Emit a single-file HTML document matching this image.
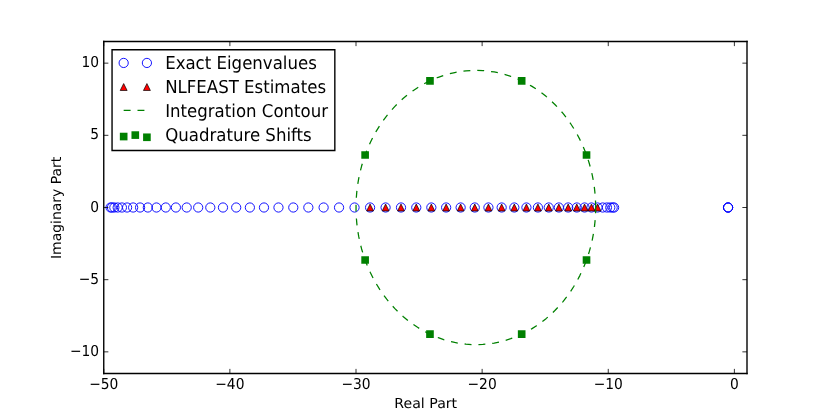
<!DOCTYPE html>
<html><head><meta charset="utf-8"><title>NLFEAST plot</title>
<style>html,body{margin:0;padding:0;background:#fff;width:830px;height:415px;overflow:hidden}svg{display:block}
text{font-family:"DejaVu Sans","Liberation Sans",sans-serif;text-rendering:geometricPrecision}</style>
</head><body>
<svg width="830" height="415" viewBox="0 0 720 360" version="1.1">
  <defs>
  <style type="text/css">*{stroke-linejoin: round; stroke-linecap: butt}</style>
 </defs>
 <g id="figure_1">
  <g id="patch_1">
   <path d="M 0 360 L 720 360 L 720 0 L 0 0 z
" style="fill: #ffffff"/>
  </g>
  <g id="axes_1">
   <g id="patch_2">
    <path d="M 90 324 L 648 324 L 648 36 L 90 36 z
" style="fill: #ffffff"/>
   </g>
   <g id="PathCollection_1">
    <path d="M 505.477207 137.793935 L 512.110456 137.793935 L 512.110456 131.160685 L 505.477207 131.160685 z
" clip-path="url(#p7ada1fab5f)" style="fill: #008000"/>
    <path d="M 449.224647 73.415129 L 455.857897 73.415129 L 455.857897 66.78188 L 449.224647 66.78188 z
" clip-path="url(#p7ada1fab5f)" style="fill: #008000"/>
    <path d="M 369.671515 73.415129 L 376.304764 73.415129 L 376.304764 66.78188 L 369.671515 66.78188 z
" clip-path="url(#p7ada1fab5f)" style="fill: #008000"/>
    <path d="M 313.418956 137.793935 L 320.052205 137.793935 L 320.052205 131.160685 L 313.418956 131.160685 z
" clip-path="url(#p7ada1fab5f)" style="fill: #008000"/>
    <path d="M 313.418956 228.839315 L 320.052205 228.839315 L 320.052205 222.206065 L 313.418956 222.206065 z
" clip-path="url(#p7ada1fab5f)" style="fill: #008000"/>
    <path d="M 369.671515 293.21812 L 376.304764 293.21812 L 376.304764 286.584871 L 369.671515 286.584871 z
" clip-path="url(#p7ada1fab5f)" style="fill: #008000"/>
    <path d="M 449.224647 293.21812 L 455.857897 293.21812 L 455.857897 286.584871 L 449.224647 286.584871 z
" clip-path="url(#p7ada1fab5f)" style="fill: #008000"/>
    <path d="M 505.477207 228.839315 L 512.110456 228.839315 L 512.110456 222.206065 L 505.477207 222.206065 z
" clip-path="url(#p7ada1fab5f)" style="fill: #008000"/>
   </g>
   <g id="line2d_1">
    <defs>
     <path id="m9eec6ff01c" d="M 0 4 C 1.060812 4 2.078319 3.578535 2.828427 2.828427 C 3.578535 2.078319 4 1.060812 4 0 C 4 -1.060812 3.578535 -2.078319 2.828427 -2.828427 C 2.078319 -3.578535 1.060812 -4 0 -4 C -1.060812 -4 -2.078319 -3.578535 -2.828427 -2.828427 C -3.578535 -2.078319 -4 -1.060812 -4 0 C -4 1.060812 -3.578535 2.078319 -2.828427 2.828427 C -2.078319 3.578535 -1.060812 4 0 4 z
" style="stroke: #0000ff; stroke-width: 0.8"/>
    </defs>
    <g clip-path="url(#p7ada1fab5f)">
     <use href="#m9eec6ff01c" x="95.885625" y="180" style="fill-opacity: 0; stroke: #0000ff; stroke-width: 0.8"/>
     <use href="#m9eec6ff01c" x="97.129159" y="180" style="fill-opacity: 0; stroke: #0000ff; stroke-width: 0.8"/>
     <use href="#m9eec6ff01c" x="99.196475" y="180" style="fill-opacity: 0; stroke: #0000ff; stroke-width: 0.8"/>
     <use href="#m9eec6ff01c" x="102.079729" y="180" style="fill-opacity: 0; stroke: #0000ff; stroke-width: 0.8"/>
     <use href="#m9eec6ff01c" x="105.767986" y="180" style="fill-opacity: 0; stroke: #0000ff; stroke-width: 0.8"/>
     <use href="#m9eec6ff01c" x="110.247253" y="180" style="fill-opacity: 0; stroke: #0000ff; stroke-width: 0.8"/>
     <use href="#m9eec6ff01c" x="115.500541" y="180" style="fill-opacity: 0; stroke: #0000ff; stroke-width: 0.8"/>
     <use href="#m9eec6ff01c" x="121.50792" y="180" style="fill-opacity: 0; stroke: #0000ff; stroke-width: 0.8"/>
     <use href="#m9eec6ff01c" x="128.246603" y="180" style="fill-opacity: 0; stroke: #0000ff; stroke-width: 0.8"/>
     <use href="#m9eec6ff01c" x="135.691029" y="180" style="fill-opacity: 0; stroke: #0000ff; stroke-width: 0.8"/>
     <use href="#m9eec6ff01c" x="143.812957" y="180" style="fill-opacity: 0; stroke: #0000ff; stroke-width: 0.8"/>
     <use href="#m9eec6ff01c" x="152.581578" y="180" style="fill-opacity: 0; stroke: #0000ff; stroke-width: 0.8"/>
     <use href="#m9eec6ff01c" x="161.963631" y="180" style="fill-opacity: 0; stroke: #0000ff; stroke-width: 0.8"/>
     <use href="#m9eec6ff01c" x="171.923525" y="180" style="fill-opacity: 0; stroke: #0000ff; stroke-width: 0.8"/>
     <use href="#m9eec6ff01c" x="182.42348" y="180" style="fill-opacity: 0; stroke: #0000ff; stroke-width: 0.8"/>
     <use href="#m9eec6ff01c" x="193.423665" y="180" style="fill-opacity: 0; stroke: #0000ff; stroke-width: 0.8"/>
     <use href="#m9eec6ff01c" x="204.882353" y="180" style="fill-opacity: 0; stroke: #0000ff; stroke-width: 0.8"/>
     <use href="#m9eec6ff01c" x="216.756077" y="180" style="fill-opacity: 0; stroke: #0000ff; stroke-width: 0.8"/>
     <use href="#m9eec6ff01c" x="228.999797" y="180" style="fill-opacity: 0; stroke: #0000ff; stroke-width: 0.8"/>
     <use href="#m9eec6ff01c" x="241.567067" y="180" style="fill-opacity: 0; stroke: #0000ff; stroke-width: 0.8"/>
     <use href="#m9eec6ff01c" x="254.410216" y="180" style="fill-opacity: 0; stroke: #0000ff; stroke-width: 0.8"/>
     <use href="#m9eec6ff01c" x="267.480525" y="180" style="fill-opacity: 0; stroke: #0000ff; stroke-width: 0.8"/>
     <use href="#m9eec6ff01c" x="280.728414" y="180" style="fill-opacity: 0; stroke: #0000ff; stroke-width: 0.8"/>
     <use href="#m9eec6ff01c" x="294.10363" y="180" style="fill-opacity: 0; stroke: #0000ff; stroke-width: 0.8"/>
     <use href="#m9eec6ff01c" x="307.555434" y="180" style="fill-opacity: 0; stroke: #0000ff; stroke-width: 0.8"/>
     <use href="#m9eec6ff01c" x="321.032801" y="180" style="fill-opacity: 0; stroke: #0000ff; stroke-width: 0.8"/>
     <use href="#m9eec6ff01c" x="334.484606" y="180" style="fill-opacity: 0; stroke: #0000ff; stroke-width: 0.8"/>
     <use href="#m9eec6ff01c" x="347.859821" y="180" style="fill-opacity: 0; stroke: #0000ff; stroke-width: 0.8"/>
     <use href="#m9eec6ff01c" x="361.10771" y="180" style="fill-opacity: 0; stroke: #0000ff; stroke-width: 0.8"/>
     <use href="#m9eec6ff01c" x="374.178019" y="180" style="fill-opacity: 0; stroke: #0000ff; stroke-width: 0.8"/>
     <use href="#m9eec6ff01c" x="387.021168" y="180" style="fill-opacity: 0; stroke: #0000ff; stroke-width: 0.8"/>
     <use href="#m9eec6ff01c" x="399.588438" y="180" style="fill-opacity: 0; stroke: #0000ff; stroke-width: 0.8"/>
     <use href="#m9eec6ff01c" x="411.832158" y="180" style="fill-opacity: 0; stroke: #0000ff; stroke-width: 0.8"/>
     <use href="#m9eec6ff01c" x="423.705882" y="180" style="fill-opacity: 0; stroke: #0000ff; stroke-width: 0.8"/>
     <use href="#m9eec6ff01c" x="435.164571" y="180" style="fill-opacity: 0; stroke: #0000ff; stroke-width: 0.8"/>
     <use href="#m9eec6ff01c" x="446.164756" y="180" style="fill-opacity: 0; stroke: #0000ff; stroke-width: 0.8"/>
     <use href="#m9eec6ff01c" x="456.66471" y="180" style="fill-opacity: 0; stroke: #0000ff; stroke-width: 0.8"/>
     <use href="#m9eec6ff01c" x="466.624605" y="180" style="fill-opacity: 0; stroke: #0000ff; stroke-width: 0.8"/>
     <use href="#m9eec6ff01c" x="476.006657" y="180" style="fill-opacity: 0; stroke: #0000ff; stroke-width: 0.8"/>
     <use href="#m9eec6ff01c" x="484.775279" y="180" style="fill-opacity: 0; stroke: #0000ff; stroke-width: 0.8"/>
     <use href="#m9eec6ff01c" x="492.897207" y="180" style="fill-opacity: 0; stroke: #0000ff; stroke-width: 0.8"/>
     <use href="#m9eec6ff01c" x="500.341632" y="180" style="fill-opacity: 0; stroke: #0000ff; stroke-width: 0.8"/>
     <use href="#m9eec6ff01c" x="507.080315" y="180" style="fill-opacity: 0; stroke: #0000ff; stroke-width: 0.8"/>
     <use href="#m9eec6ff01c" x="513.087695" y="180" style="fill-opacity: 0; stroke: #0000ff; stroke-width: 0.8"/>
     <use href="#m9eec6ff01c" x="518.340982" y="180" style="fill-opacity: 0; stroke: #0000ff; stroke-width: 0.8"/>
     <use href="#m9eec6ff01c" x="522.82025" y="180" style="fill-opacity: 0; stroke: #0000ff; stroke-width: 0.8"/>
     <use href="#m9eec6ff01c" x="526.508506" y="180" style="fill-opacity: 0; stroke: #0000ff; stroke-width: 0.8"/>
     <use href="#m9eec6ff01c" x="529.391761" y="180" style="fill-opacity: 0; stroke: #0000ff; stroke-width: 0.8"/>
     <use href="#m9eec6ff01c" x="531.459076" y="180" style="fill-opacity: 0; stroke: #0000ff; stroke-width: 0.8"/>
     <use href="#m9eec6ff01c" x="532.702611" y="180" style="fill-opacity: 0; stroke: #0000ff; stroke-width: 0.8"/>
     <use href="#m9eec6ff01c" x="631.588235" y="180" style="fill-opacity: 0; stroke: #0000ff; stroke-width: 0.8"/>
     <use href="#m9eec6ff01c" x="631.588235" y="180" style="fill-opacity: 0; stroke: #0000ff; stroke-width: 0.8"/>
     <use href="#m9eec6ff01c" x="631.588235" y="180" style="fill-opacity: 0; stroke: #0000ff; stroke-width: 0.8"/>
    </g>
   </g>
   <g id="line2d_2">
    <defs>
     <path id="m22b34744af" d="M 0 -3 L -3 3 L 3 3 z
" style="stroke: #000000; stroke-width: 0.6; stroke-linejoin: miter"/>
    </defs>
    <g clip-path="url(#p7ada1fab5f)">
     <use href="#m22b34744af" x="518.340982" y="180" style="fill: #ff0000; stroke: #000000; stroke-width: 0.6; stroke-linejoin: miter"/>
     <use href="#m22b34744af" x="513.087695" y="180" style="fill: #ff0000; stroke: #000000; stroke-width: 0.6; stroke-linejoin: miter"/>
     <use href="#m22b34744af" x="507.080315" y="180" style="fill: #ff0000; stroke: #000000; stroke-width: 0.6; stroke-linejoin: miter"/>
     <use href="#m22b34744af" x="500.341632" y="180" style="fill: #ff0000; stroke: #000000; stroke-width: 0.6; stroke-linejoin: miter"/>
     <use href="#m22b34744af" x="492.897207" y="180" style="fill: #ff0000; stroke: #000000; stroke-width: 0.6; stroke-linejoin: miter"/>
     <use href="#m22b34744af" x="484.775279" y="180" style="fill: #ff0000; stroke: #000000; stroke-width: 0.6; stroke-linejoin: miter"/>
     <use href="#m22b34744af" x="476.006657" y="180" style="fill: #ff0000; stroke: #000000; stroke-width: 0.6; stroke-linejoin: miter"/>
     <use href="#m22b34744af" x="466.624605" y="180" style="fill: #ff0000; stroke: #000000; stroke-width: 0.6; stroke-linejoin: miter"/>
     <use href="#m22b34744af" x="456.66471" y="180" style="fill: #ff0000; stroke: #000000; stroke-width: 0.6; stroke-linejoin: miter"/>
     <use href="#m22b34744af" x="446.164756" y="180" style="fill: #ff0000; stroke: #000000; stroke-width: 0.6; stroke-linejoin: miter"/>
     <use href="#m22b34744af" x="435.164571" y="180" style="fill: #ff0000; stroke: #000000; stroke-width: 0.6; stroke-linejoin: miter"/>
     <use href="#m22b34744af" x="423.705882" y="180" style="fill: #ff0000; stroke: #000000; stroke-width: 0.6; stroke-linejoin: miter"/>
     <use href="#m22b34744af" x="411.832158" y="180" style="fill: #ff0000; stroke: #000000; stroke-width: 0.6; stroke-linejoin: miter"/>
     <use href="#m22b34744af" x="399.588438" y="180" style="fill: #ff0000; stroke: #000000; stroke-width: 0.6; stroke-linejoin: miter"/>
     <use href="#m22b34744af" x="387.021168" y="180" style="fill: #ff0000; stroke: #000000; stroke-width: 0.6; stroke-linejoin: miter"/>
     <use href="#m22b34744af" x="374.178019" y="180" style="fill: #ff0000; stroke: #000000; stroke-width: 0.6; stroke-linejoin: miter"/>
     <use href="#m22b34744af" x="361.10771" y="180" style="fill: #ff0000; stroke: #000000; stroke-width: 0.6; stroke-linejoin: miter"/>
     <use href="#m22b34744af" x="347.859821" y="180" style="fill: #ff0000; stroke: #000000; stroke-width: 0.6; stroke-linejoin: miter"/>
     <use href="#m22b34744af" x="334.484606" y="180" style="fill: #ff0000; stroke: #000000; stroke-width: 0.6; stroke-linejoin: miter"/>
     <use href="#m22b34744af" x="321.032801" y="180" style="fill: #ff0000; stroke: #000000; stroke-width: 0.6; stroke-linejoin: miter"/>
    </g>
   </g>
   <g id="line2d_3">
    <path d="M 516.705882 180 L 516.589916 174.382347 L 516.242274 168.777229 L 515.663734 163.197153 L 514.855586 157.654571 L 513.819633 152.16185 L 512.558187 146.731248 L 511.074063 141.374881 L 509.370572 136.104701 L 507.451516 130.932469 L 505.321176 125.869726 L 502.984307 120.927769 L 500.446122 116.117625 L 497.712286 111.450028 L 494.788899 106.935392 L 491.682483 102.583792 L 488.399972 98.404938 L 484.948688 94.408155 L 481.336334 90.60236 L 477.570969 86.996046 L 473.660997 83.597261 L 469.615141 80.413588 L 465.442429 77.452131 L 461.152173 74.719498 L 456.753946 72.221787 L 452.257561 69.964572 L 447.673052 67.952889 L 443.01065 66.191227 L 438.280756 64.683516 L 433.493927 63.433122 L 428.660842 62.442834 L 423.792287 61.714862 L 418.899125 61.25083 L 413.992274 61.051775 L 409.082685 61.118139 L 404.181312 61.449775 L 399.299091 62.045943 L 394.446918 62.905313 L 389.635618 64.025967 L 384.875929 65.405404 L 380.17847 67.040546 L 375.553725 68.927746 L 371.012011 71.06279 L 366.563464 73.440917 L 362.21801 76.056818 L 357.985345 78.904657 L 353.874915 81.97808 L 349.895891 85.270227 L 346.057151 88.773754 L 342.367263 92.480843 L 338.834458 96.38322 L 335.466621 100.47218 L 332.271266 104.738597 L 329.255523 109.172952 L 326.426122 113.765349 L 323.789377 118.505542 L 321.35117 123.382954 L 319.116942 128.3867 L 317.091679 133.505615 L 315.2799 138.728278 L 313.685648 144.043033 L 312.312479 149.438023 L 311.163459 154.901209 L 310.241152 160.4204 L 309.547614 165.983281 L 309.084394 171.577438 L 308.852525 177.19039 L 308.852525 182.80961 L 309.084394 188.422562 L 309.547614 194.016719 L 310.241152 199.5796 L 311.163459 205.098791 L 312.312479 210.561977 L 313.685648 215.956967 L 315.2799 221.271722 L 317.091679 226.494385 L 319.116942 231.6133 L 321.35117 236.617046 L 323.789377 241.494458 L 326.426122 246.234651 L 329.255523 250.827048 L 332.271266 255.261403 L 335.466621 259.52782 L 338.834458 263.61678 L 342.367263 267.519157 L 346.057151 271.226246 L 349.895891 274.729773 L 353.874915 278.02192 L 357.985345 281.095343 L 362.21801 283.943182 L 366.563464 286.559083 L 371.012011 288.93721 L 375.553725 291.072254 L 380.17847 292.959454 L 384.875929 294.594596 L 389.635618 295.974033 L 394.446918 297.094687 L 399.299091 297.954057 L 404.181312 298.550225 L 409.082685 298.881861 L 413.992274 298.948225 L 418.899125 298.74917 L 423.792287 298.285138 L 428.660842 297.557166 L 433.493927 296.566878 L 438.280756 295.316484 L 443.01065 293.808773 L 447.673052 292.047111 L 452.257561 290.035428 L 456.753946 287.778213 L 461.152173 285.280502 L 465.442429 282.547869 L 469.615141 279.586412 L 473.660997 276.402739 L 477.570969 273.003954 L 481.336334 269.39764 L 484.948688 265.591845 L 488.399972 261.595062 L 491.682483 257.416208 L 494.788899 253.064608 L 497.712286 248.549972 L 500.446122 243.882375 L 502.984307 239.072231 L 505.321176 234.130274 L 507.451516 229.067531 L 509.370572 223.895299 L 511.074063 218.625119 L 512.558187 213.268752 L 513.819633 207.83815 L 514.855586 202.345429 L 515.663734 196.802847 L 516.242274 191.222771 L 516.589916 185.617653 L 516.705882 180 L 516.705882 180 " clip-path="url(#p7ada1fab5f)" style="fill: none; stroke-dasharray: 6,6; stroke-dashoffset: 0; stroke: #008000; stroke-width: 1.1"/>
   </g>
   <g id="patch_3">
    <path d="M 90 324 L 90 36 " style="fill: none; stroke: #000000; stroke-width: 1.2; stroke-linejoin: miter; stroke-linecap: square"/>
   </g>
   <g id="patch_4">
    <path d="M 648 324 L 648 36 " style="fill: none; stroke: #000000; stroke-width: 1.2; stroke-linejoin: miter; stroke-linecap: square"/>
   </g>
   <g id="patch_5">
    <path d="M 90 324 L 648 324 " style="fill: none; stroke: #000000; stroke-width: 1.2; stroke-linejoin: miter; stroke-linecap: square"/>
   </g>
   <g id="patch_6">
    <path d="M 90 36 L 648 36 " style="fill: none; stroke: #000000; stroke-width: 1.2; stroke-linejoin: miter; stroke-linecap: square"/>
   </g>
   <g id="matplotlib.axis_1">
    <g id="xtick_1">
     <g id="line2d_4">
      <defs>
       <path id="m15deeab020" d="M 0 0 L 0 -4 " style="stroke: #000000; stroke-width: 0.7"/>
      </defs>
      <g>
       <use href="#m15deeab020" x="90" y="324" style="stroke: #000000; stroke-width: 0.7"/>
      </g>
     </g>
     <g id="line2d_5">
      <defs>
       <path id="m3d0ea3b565" d="M 0 0 L 0 4 " style="stroke: #000000; stroke-width: 0.7"/>
      </defs>
      <g>
       <use href="#m3d0ea3b565" x="90" y="36" style="stroke: #000000; stroke-width: 0.7"/>
      </g>
     </g>
     <g id="text_1">
      <text style="font-size: 12px; font-family: 'DejaVu Sans', sans-serif; text-anchor: middle" x="90" y="337.4651" transform="translate(90.0000 337.4651) scale(1.000 1.080) translate(-90.0000 -337.4651)">−50</text>
     </g>
    </g>
    <g id="xtick_2">
     <g id="line2d_6">
      <g>
       <use href="#m15deeab020" x="199.411765" y="324" style="stroke: #000000; stroke-width: 0.7"/>
      </g>
     </g>
     <g id="line2d_7">
      <g>
       <use href="#m3d0ea3b565" x="199.411765" y="36" style="stroke: #000000; stroke-width: 0.7"/>
      </g>
     </g>
     <g id="text_2">
      <text style="font-size: 12px; font-family: 'DejaVu Sans', sans-serif; text-anchor: middle" x="199.411765" y="337.4651" transform="translate(199.4118 337.4651) scale(1.000 1.080) translate(-199.4118 -337.4651)">−40</text>
     </g>
    </g>
    <g id="xtick_3">
     <g id="line2d_8">
      <g>
       <use href="#m15deeab020" x="308.823529" y="324" style="stroke: #000000; stroke-width: 0.7"/>
      </g>
     </g>
     <g id="line2d_9">
      <g>
       <use href="#m3d0ea3b565" x="308.823529" y="36" style="stroke: #000000; stroke-width: 0.7"/>
      </g>
     </g>
     <g id="text_3">
      <text style="font-size: 12px; font-family: 'DejaVu Sans', sans-serif; text-anchor: middle" x="308.823529" y="337.4651" transform="translate(308.8235 337.4651) scale(1.000 1.080) translate(-308.8235 -337.4651)">−30</text>
     </g>
    </g>
    <g id="xtick_4">
     <g id="line2d_10">
      <g>
       <use href="#m15deeab020" x="418.235294" y="324" style="stroke: #000000; stroke-width: 0.7"/>
      </g>
     </g>
     <g id="line2d_11">
      <g>
       <use href="#m3d0ea3b565" x="418.235294" y="36" style="stroke: #000000; stroke-width: 0.7"/>
      </g>
     </g>
     <g id="text_4">
      <text style="font-size: 12px; font-family: 'DejaVu Sans', sans-serif; text-anchor: middle" x="418.235294" y="337.4651" transform="translate(418.2353 337.4651) scale(1.000 1.080) translate(-418.2353 -337.4651)">−20</text>
     </g>
    </g>
    <g id="xtick_5">
     <g id="line2d_12">
      <g>
       <use href="#m15deeab020" x="527.647059" y="324" style="stroke: #000000; stroke-width: 0.7"/>
      </g>
     </g>
     <g id="line2d_13">
      <g>
       <use href="#m3d0ea3b565" x="527.647059" y="36" style="stroke: #000000; stroke-width: 0.7"/>
      </g>
     </g>
     <g id="text_5">
      <text style="font-size: 12px; font-family: 'DejaVu Sans', sans-serif; text-anchor: middle" x="527.647059" y="337.4651" transform="translate(527.6471 337.4651) scale(1.000 1.080) translate(-527.6471 -337.4651)">−10</text>
     </g>
    </g>
    <g id="xtick_6">
     <g id="line2d_14">
      <g>
       <use href="#m15deeab020" x="637.058824" y="324" style="stroke: #000000; stroke-width: 0.7"/>
      </g>
     </g>
     <g id="line2d_15">
      <g>
       <use href="#m3d0ea3b565" x="637.058824" y="36" style="stroke: #000000; stroke-width: 0.7"/>
      </g>
     </g>
     <g id="text_6">
      <text style="font-size: 12px; font-family: 'DejaVu Sans', sans-serif; text-anchor: middle" x="637.058824" y="337.4651" transform="translate(637.0588 337.4651) scale(1.000 1.080) translate(-637.0588 -337.4651)">0</text>
     </g>
    </g>
    <g id="text_7">
     <text style="font-size: 12px; font-family: 'DejaVu Sans', sans-serif; text-anchor: middle" x="369" y="353.7319" transform="translate(369.2863 353.7319) scale(1.022 1.000) translate(-369.0000 -353.7319)">Real Part</text>
    </g>
   </g>
   <g id="matplotlib.axis_2">
    <g id="ytick_1">
     <g id="line2d_16">
      <defs>
       <path id="m390d02311e" d="M 0 0 L 4 0 " style="stroke: #000000; stroke-width: 0.7"/>
      </defs>
      <g>
       <use href="#m390d02311e" x="90" y="305.217391" style="stroke: #000000; stroke-width: 0.7"/>
      </g>
     </g>
     <g id="line2d_17">
      <defs>
       <path id="m24675adae3" d="M 0 0 L -4 0 " style="stroke: #000000; stroke-width: 0.7"/>
      </defs>
      <g>
       <use href="#m24675adae3" x="648" y="305.217391" style="stroke: #000000; stroke-width: 0.7"/>
      </g>
     </g>
     <g id="text_8">
      <text style="font-size: 12px; font-family: 'DejaVu Sans', sans-serif; text-anchor: end" x="86" y="308.8193" transform="translate(86.0000 308.8193) scale(1.000 1.080) translate(-86.0000 -308.8193)">−10</text>
     </g>
    </g>
    <g id="ytick_2">
     <g id="line2d_18">
      <g>
       <use href="#m390d02311e" x="90" y="242.608696" style="stroke: #000000; stroke-width: 0.7"/>
      </g>
     </g>
     <g id="line2d_19">
      <g>
       <use href="#m24675adae3" x="648" y="242.608696" style="stroke: #000000; stroke-width: 0.7"/>
      </g>
     </g>
     <g id="text_9">
      <text style="font-size: 12px; font-family: 'DejaVu Sans', sans-serif; text-anchor: end" x="86" y="246.3614" transform="translate(86.0000 246.3614) scale(1.000 1.080) translate(-86.0000 -246.3614)">−5</text>
     </g>
    </g>
    <g id="ytick_3">
     <g id="line2d_20">
      <g>
       <use href="#m390d02311e" x="90" y="180" style="stroke: #000000; stroke-width: 0.7"/>
      </g>
     </g>
     <g id="line2d_21">
      <g>
       <use href="#m24675adae3" x="648" y="180" style="stroke: #000000; stroke-width: 0.7"/>
      </g>
     </g>
     <g id="text_10">
      <text style="font-size: 12px; font-family: 'DejaVu Sans', sans-serif; text-anchor: end" x="86" y="183.9036" transform="translate(86.0000 183.9036) scale(1.000 1.080) translate(-86.0000 -183.9036)">0</text>
     </g>
    </g>
    <g id="ytick_4">
     <g id="line2d_22">
      <g>
       <use href="#m390d02311e" x="90" y="117.391304" style="stroke: #000000; stroke-width: 0.7"/>
      </g>
     </g>
     <g id="line2d_23">
      <g>
       <use href="#m24675adae3" x="648" y="117.391304" style="stroke: #000000; stroke-width: 0.7"/>
      </g>
     </g>
     <g id="text_11">
      <text style="font-size: 12px; font-family: 'DejaVu Sans', sans-serif; text-anchor: end" x="86" y="120.5783" transform="translate(86.0000 120.5783) scale(1.000 1.080) translate(-86.0000 -120.5783)">5</text>
     </g>
    </g>
    <g id="ytick_5">
     <g id="line2d_24">
      <g>
       <use href="#m390d02311e" x="90" y="54.782609" style="stroke: #000000; stroke-width: 0.7"/>
      </g>
     </g>
     <g id="line2d_25">
      <g>
       <use href="#m24675adae3" x="648" y="54.782609" style="stroke: #000000; stroke-width: 0.7"/>
      </g>
     </g>
     <g id="text_12">
      <text style="font-size: 12px; font-family: 'DejaVu Sans', sans-serif; text-anchor: end" x="86" y="58.1205" transform="translate(86.0000 58.1205) scale(1.000 1.080) translate(-86.0000 -58.1205)">10</text>
     </g>
    </g>
    <g id="text_13">
     <text style="font-size: 12px; font-family: 'DejaVu Sans', sans-serif; text-anchor: middle" x="53.17875" y="180" transform="translate(53.1788 180.3470) rotate(-90) scale(1.008 1) translate(-53.1788 -180.0000)">Imaginary Part</text>
    </g>
   </g>
   <g id="legend_1">
    <g id="patch_7">
     <path d="M 97.2 130.554 L 290.45925 130.554 L 290.45925 43.2 L 97.2 43.2 z
" style="fill: #ffffff; stroke: #000000; stroke-width: 1.2; stroke-linejoin: miter"/>
    </g>
    <g id="line2d_26" transform="translate(0 -0.2602)">
     <g>
      <use href="#m9eec6ff01c" x="107.28" y="54.86175" style="fill-opacity: 0; stroke: #0000ff; stroke-width: 0.8"/>
      <use href="#m9eec6ff01c" x="127.44" y="54.86175" style="fill-opacity: 0; stroke: #0000ff; stroke-width: 0.8"/>
     </g>
    </g>
    <g id="text_14">
     <text style="font-size: 14.4px; font-family: 'DejaVu Sans', sans-serif; text-anchor: start" x="143.28" y="59.8554" transform="translate(143.2800 59.8554) scale(1.000 1.065) translate(-143.2800 -59.8554)">Exact Eigenvalues</text>
    </g>
    <g id="line2d_27">
     <g>
      <use href="#m22b34744af" x="107.28" y="75.49425" style="fill: #ff0000; stroke: #000000; stroke-width: 0.6; stroke-linejoin: miter"/>
      <use href="#m22b34744af" x="127.44" y="75.49425" style="fill: #ff0000; stroke: #000000; stroke-width: 0.6; stroke-linejoin: miter"/>
     </g>
    </g>
    <g id="text_15">
     <text style="font-size: 14.4px; font-family: 'DejaVu Sans', sans-serif; text-anchor: start" x="143.28" y="80.6747" transform="translate(143.2800 80.6747) scale(1.000 1.065) translate(-143.2800 -80.6747)">NLFEAST Estimates</text>
    </g>
    <g id="line2d_28" transform="translate(0 -0.3470)">
     <path d="M 107.28 96.12675 L 127.44 96.12675 " style="fill: none; stroke-dasharray: 6,6; stroke-dashoffset: 0; stroke: #008000; stroke-width: 1.1"/>
    </g>
    <g id="text_16">
     <text style="font-size: 14.4px; font-family: 'DejaVu Sans', sans-serif; text-anchor: start" x="143.28" y="101.4940" transform="translate(143.2800 101.4940) scale(1.000 1.065) translate(-143.2800 -101.4940)">Integration Contour</text>
    </g>
    <g id="PathCollection_2" transform="translate(0 0.4337)">
     <path d="M 103.963375 121.335875 L 110.596625 121.335875 L 110.596625 114.702625 L 103.963375 114.702625 z
" style="fill: #008000"/>
     <path d="M 114.043375 120.075875 L 120.676625 120.075875 L 120.676625 113.442625 L 114.043375 113.442625 z
" style="fill: #008000"/>
     <path d="M 124.123375 121.965875 L 130.756625 121.965875 L 130.756625 115.332625 L 124.123375 115.332625 z
" style="fill: #008000"/>
    </g>
    <g id="text_17">
     <text style="font-size: 14.4px; font-family: 'DejaVu Sans', sans-serif; text-anchor: start" x="143.28" y="122.3133" transform="translate(143.2800 122.3133) scale(1.000 1.065) translate(-143.2800 -122.3133)">Quadrature Shifts</text>
    </g>
   </g>
  </g>
 </g>
 <defs>
  <clipPath id="p7ada1fab5f">
   <rect x="90" y="36" width="558" height="288"/>
  </clipPath>
 </defs>
</svg>

</body></html>
